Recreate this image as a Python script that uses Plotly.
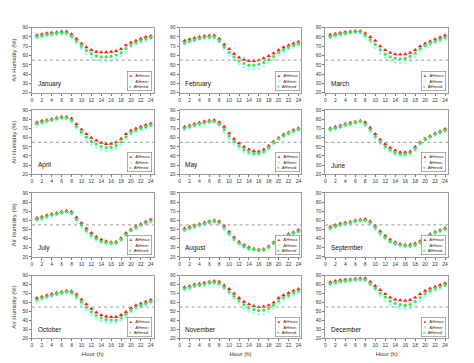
import plotly.graph_objects as go

W, H = 474, 363

months = ["January", "February", "March", "April", "May", "June",
          "July", "August", "September", "October", "November", "December"]
hours = list(range(1, 25))
x_ticks = list(range(0, 25, 2))
y_ticks = list(range(20, 91, 10))
threshold = 55
series_names = ["AHmax", "AHmin", "AHmed"]

ah_max = {
    "January":   [82, 83, 84, 84.5, 85, 86, 86, 83, 78, 73, 69, 66, 64, 63.5, 63.5, 64, 65, 67, 71, 74, 76, 78, 80, 81],
    "February":  [76, 77.5, 79, 80, 81, 81.5, 81.5, 78, 72, 67, 62, 58, 55.5, 54, 54, 55, 57, 59.5, 62.5, 66, 69, 71, 73, 75],
    "March":     [82.5, 83.5, 84.5, 85.5, 86, 86.5, 86.5, 84, 80, 76, 70, 66, 63, 61.5, 61, 61.5, 63, 66, 70, 73, 75.5, 77.5, 79.5, 81.5],
    "April":     [77, 78.5, 79.5, 80.5, 82, 83, 83, 81, 75, 69, 64, 60, 57, 54.5, 53, 53.5, 55, 59, 64, 68, 70, 72, 74, 75.5],
    "May":       [72, 73.5, 75, 76.5, 78, 79, 79.5, 77, 72, 65, 59, 54, 50, 47, 45.5, 45, 47, 51, 56, 60, 63.5, 66, 68.5, 70.5],
    "June":      [70.5, 72, 73.5, 75, 76.5, 77.5, 78.5, 77, 71, 64, 58, 53, 49, 46, 44, 44, 45, 50, 55, 59, 62, 65, 67, 69.5],
    "July":      [62.5, 64, 65.5, 67, 68, 69.5, 70.5, 69.5, 63, 57, 51, 46, 42, 39, 37, 36, 36.5, 40.5, 46, 50, 53.5, 56, 58.5, 61],
    "August":    [51, 53, 54.5, 56, 57.5, 59, 60, 59, 54, 47.5, 41.5, 36.5, 33, 30.5, 29, 28, 28.5, 31.5, 36, 40, 42.5, 45, 47, 49.5],
    "September": [53, 55, 56.5, 57.5, 58.5, 60, 61, 61.5, 59, 54, 48, 43, 39, 36, 34, 33, 33.5, 34.5, 37.5, 42, 45, 47.5, 49.5, 51.5],
    "October":   [65, 66.5, 68, 69.5, 71, 72, 73, 72.5, 69, 63.5, 58, 53, 49, 46, 44.5, 44, 44, 46, 49.5, 54, 57, 59, 61, 63],
    "November":  [77, 78.5, 80, 81, 82, 83, 84, 83, 79, 75, 70, 65, 61, 58, 56, 55, 55.5, 57, 60, 65, 68, 70.5, 73, 75],
    "December":  [82.5, 84, 85, 85.5, 86, 86.5, 87, 87, 83, 78.5, 74, 69.5, 65.5, 63.5, 62.5, 62, 63, 65.5, 69.5, 73, 75.5, 77.5, 79.5, 81.5],
}
ah_min = {
    "January":   [79, 80, 81, 82, 82.5, 83, 83, 79, 73, 67, 62, 58, 55, 54, 54, 54.5, 56, 59, 64, 69, 72, 74, 76, 78],
    "February":  [72, 74, 75.5, 77, 78, 78.5, 78.5, 74, 67, 60, 55, 50.5, 47.5, 45.5, 45, 46, 48.5, 52, 56, 61, 64, 67, 69, 71],
    "March":     [79, 80.5, 81.5, 82.5, 83.5, 84, 84, 80, 74, 68, 62, 57, 54, 52.5, 52, 52.5, 55, 59, 65, 69, 71.5, 73.5, 75.5, 77.5],
    "April":     [74, 75.5, 77, 78.5, 79.5, 80.5, 80.5, 77, 70, 63, 57, 52.5, 49, 46.5, 45.5, 46, 48, 52, 58, 63, 66, 68.5, 70.5, 72.5],
    "May":       [69, 70.5, 72, 73.5, 75, 76.5, 77, 73, 66, 59, 53, 48, 44, 42, 41, 41, 43, 47, 53, 58, 61, 63.5, 66, 68],
    "June":      [67.5, 69, 71, 72.5, 74, 75.5, 77, 73, 66, 59, 53, 48, 44, 41.5, 40.5, 40, 42, 46, 53, 57.5, 60, 62.5, 65, 67],
    "July":      [59.5, 61, 63, 64.5, 66, 67.5, 68.5, 66, 59, 52.5, 46.5, 41.5, 38, 35.5, 34, 33.5, 34, 37.5, 43, 48, 51, 53.5, 56, 58],
    "August":    [48, 50, 52, 53.5, 55, 57, 58, 56, 50, 43.5, 38, 33.5, 30, 28, 27, 26.5, 27, 29.5, 34, 38, 40.5, 43, 45, 47],
    "September": [50, 52, 54, 55.5, 56.5, 58, 59, 59, 56, 50, 44, 39.5, 35.5, 33, 31.5, 31, 31, 32, 35, 39.5, 43, 45.5, 47.5, 49.5],
    "October":   [61.5, 63, 65, 66.5, 68, 69.5, 70.5, 69, 64, 57.5, 51, 46, 42, 39.5, 38, 37.5, 37.5, 40, 44, 49, 52.5, 55, 57, 59.5],
    "November":  [73.5, 75, 77, 78, 79, 80.5, 81, 79.5, 75, 69.5, 64, 58.5, 54, 50, 48, 47, 47.5, 49.5, 53.5, 59, 63, 66, 68.5, 71],
    "December":  [79.5, 81, 82, 83, 83.5, 84, 84.5, 84, 79, 73, 67.5, 62, 57.5, 54.5, 53, 52.5, 53.5, 56.5, 62, 67, 70.5, 73, 75.5, 78],
}
ah_med = {
    "January":   [80.5, 81.5, 82.5, 83, 84, 84.5, 84.5, 81, 75.5, 70, 65.5, 62, 59.5, 58.5, 58.5, 59, 60.5, 63, 67.5, 71.5, 74, 76, 78, 79.5],
    "February":  [74, 75.5, 77, 78.5, 79.5, 80, 80, 76, 69.5, 63.5, 58.5, 54, 51.5, 49.5, 49.5, 50.5, 52.5, 55.5, 59, 63.5, 66.5, 69, 71, 73],
    "March":     [80.5, 82, 83, 84, 85, 85.5, 85.5, 82, 77, 72, 66, 61.5, 58.5, 57, 56.5, 57, 59, 62.5, 67.5, 71, 73.5, 75.5, 77.5, 79.5],
    "April":     [75.5, 77, 78.5, 79.5, 81, 82, 82, 79, 72.5, 66, 60.5, 56, 53, 50.5, 49, 49.5, 51.5, 55.5, 61, 65.5, 68, 70, 72, 74],
    "May":       [70.5, 72, 73.5, 75, 76.5, 77.5, 78, 75, 69, 62, 56, 51, 47, 44.5, 43, 43, 45, 49, 54.5, 59, 62, 65, 67, 69],
    "June":      [69, 70.5, 72, 74, 75, 76.5, 78, 75, 68.5, 61.5, 55.5, 50.5, 46.5, 43.5, 42, 42, 43.5, 48, 54, 58, 61, 64, 66, 68],
    "July":      [61, 62.5, 64, 66, 67, 68.5, 69.5, 68, 61, 55, 49, 44, 40, 37, 35.5, 35, 35.5, 39, 44.5, 49, 52, 55, 57, 59.5],
    "August":    [49.5, 51.5, 53, 55, 56.5, 58, 59, 57.5, 52, 45.5, 39.5, 35, 31.5, 29, 28, 27, 27.5, 30.5, 35, 39, 41.5, 44, 46, 48],
    "September": [51.5, 53.5, 55, 56.5, 57.5, 59, 60, 60, 57.5, 52, 46, 41, 37, 34.5, 33, 32, 32, 33, 36, 41, 44, 46.5, 48.5, 50.5],
    "October":   [63, 65, 66.5, 68, 69.5, 71, 72, 71, 66.5, 60.5, 54.5, 49.5, 45.5, 43, 41, 40.5, 40.5, 43, 47, 51.5, 55, 57, 59, 61],
    "November":  [75.5, 77, 78.5, 79.5, 80.5, 82, 82.5, 81, 77, 72, 67, 62, 57.5, 54, 52, 51, 51.5, 53.5, 57, 62, 65.5, 68, 71, 73],
    "December":  [81, 82.5, 83.5, 84, 85, 85.5, 86, 85.5, 81, 76, 70.5, 66, 61.5, 59, 57.5, 57, 58, 61, 65.5, 70, 73, 75.5, 77.5, 79.5],
}

RED = "#ff1a1a"
CYAN = "#9ff8f8"
GREEN = "#3ee65a"

# pixel layout of panels
col_px = [(23, 145), (171, 293), (317, 440)]
row_px = [(17, 83), (101, 166), (185, 250), (269, 333)]

fig = go.Figure()
annotations = []
shapes = []

for i, m in enumerate(months):
    r, c = divmod(i, 3)
    n = i + 1
    xa = "x" if n == 1 else f"x{n}"
    ya = "y" if n == 1 else f"y{n}"
    xk = "xaxis" if n == 1 else f"xaxis{n}"
    yk = "yaxis" if n == 1 else f"yaxis{n}"

    fig.add_trace(go.Scatter(x=hours, y=ah_max[m], mode="markers", name="AHmax",
                             marker=dict(symbol="triangle-up", size=4, color=RED),
                             xaxis=xa, yaxis=ya, showlegend=False))
    fig.add_trace(go.Scatter(x=hours, y=ah_min[m], mode="markers", name="AHmin",
                             marker=dict(symbol="triangle-down", size=4, color=CYAN),
                             xaxis=xa, yaxis=ya, showlegend=False))
    fig.add_trace(go.Scatter(x=hours, y=ah_med[m], mode="markers", name="AHmed",
                             marker=dict(symbol="circle", size=3.3, color=GREEN),
                             xaxis=xa, yaxis=ya, showlegend=False))

    x0, x1 = col_px[c]
    y0, y1 = row_px[r]
    axis_common = dict(showline=True, mirror=True, linecolor="#9a9a9a", linewidth=1,
                       showgrid=False, zeroline=False, ticks="outside", ticklen=2,
                       tickcolor="#777", tickfont=dict(size=5, color="#333", family="Liberation Sans"))
    fig.layout[xk] = dict(domain=[x0 / W, x1 / W], range=[0, 24.6], tickvals=x_ticks,
                          anchor=ya, **axis_common)
    fig.layout[yk] = dict(domain=[1 - y1 / H, 1 - y0 / H], range=[20, 90], tickvals=y_ticks,
                          anchor=xa, **axis_common)
    if c == 0:
        fig.layout[yk].title = dict(text="Air Humidity (%)", standoff=5,
                                    font=dict(size=6, color="#333", family="Liberation Sans"))
    if r == 3:
        fig.layout[xk].title = dict(text="Hour (h)", standoff=4,
                                    font=dict(size=6, color="#333", family="Liberation Sans"))

    shapes.append(dict(type="line", xref=f"{xa} domain", yref=ya, x0=0, x1=1,
                       y0=threshold, y1=threshold,
                       line=dict(color="#9a9a9a", width=1, dash="dot")))
    annotations.append(dict(text=m, xref=f"{xa} domain", yref=f"{ya} domain",
                            x=0.03, y=0.14, xanchor="left", yanchor="middle", showarrow=False,
                            font=dict(size=6.5, color="#111", family="Liberation Sans")))
    legend_txt = (f"<span style='color:{RED}'>▲</span>  {series_names[0]}<br>"
                  f"<span style='color:{CYAN}'>▼</span>  {series_names[1]}<br>"
                  f"<span style='color:{GREEN}'>●</span>  {series_names[2]}")
    annotations.append(dict(text=legend_txt, xref=f"{xa} domain", yref=f"{ya} domain",
                            x=0.985, y=0.03, xanchor="right", yanchor="bottom", showarrow=False,
                            align="left", bordercolor="#777", borderwidth=0.6, borderpad=1.2,
                            bgcolor="white",
                            font=dict(size=4.4, color="#333", family="Liberation Sans")))

fig.update_layout(width=W, height=H, margin=dict(l=0, r=0, t=0, b=0),
                  paper_bgcolor="white", plot_bgcolor="white",
                  annotations=annotations, shapes=shapes, showlegend=False)

fig.write_html("out.html")
